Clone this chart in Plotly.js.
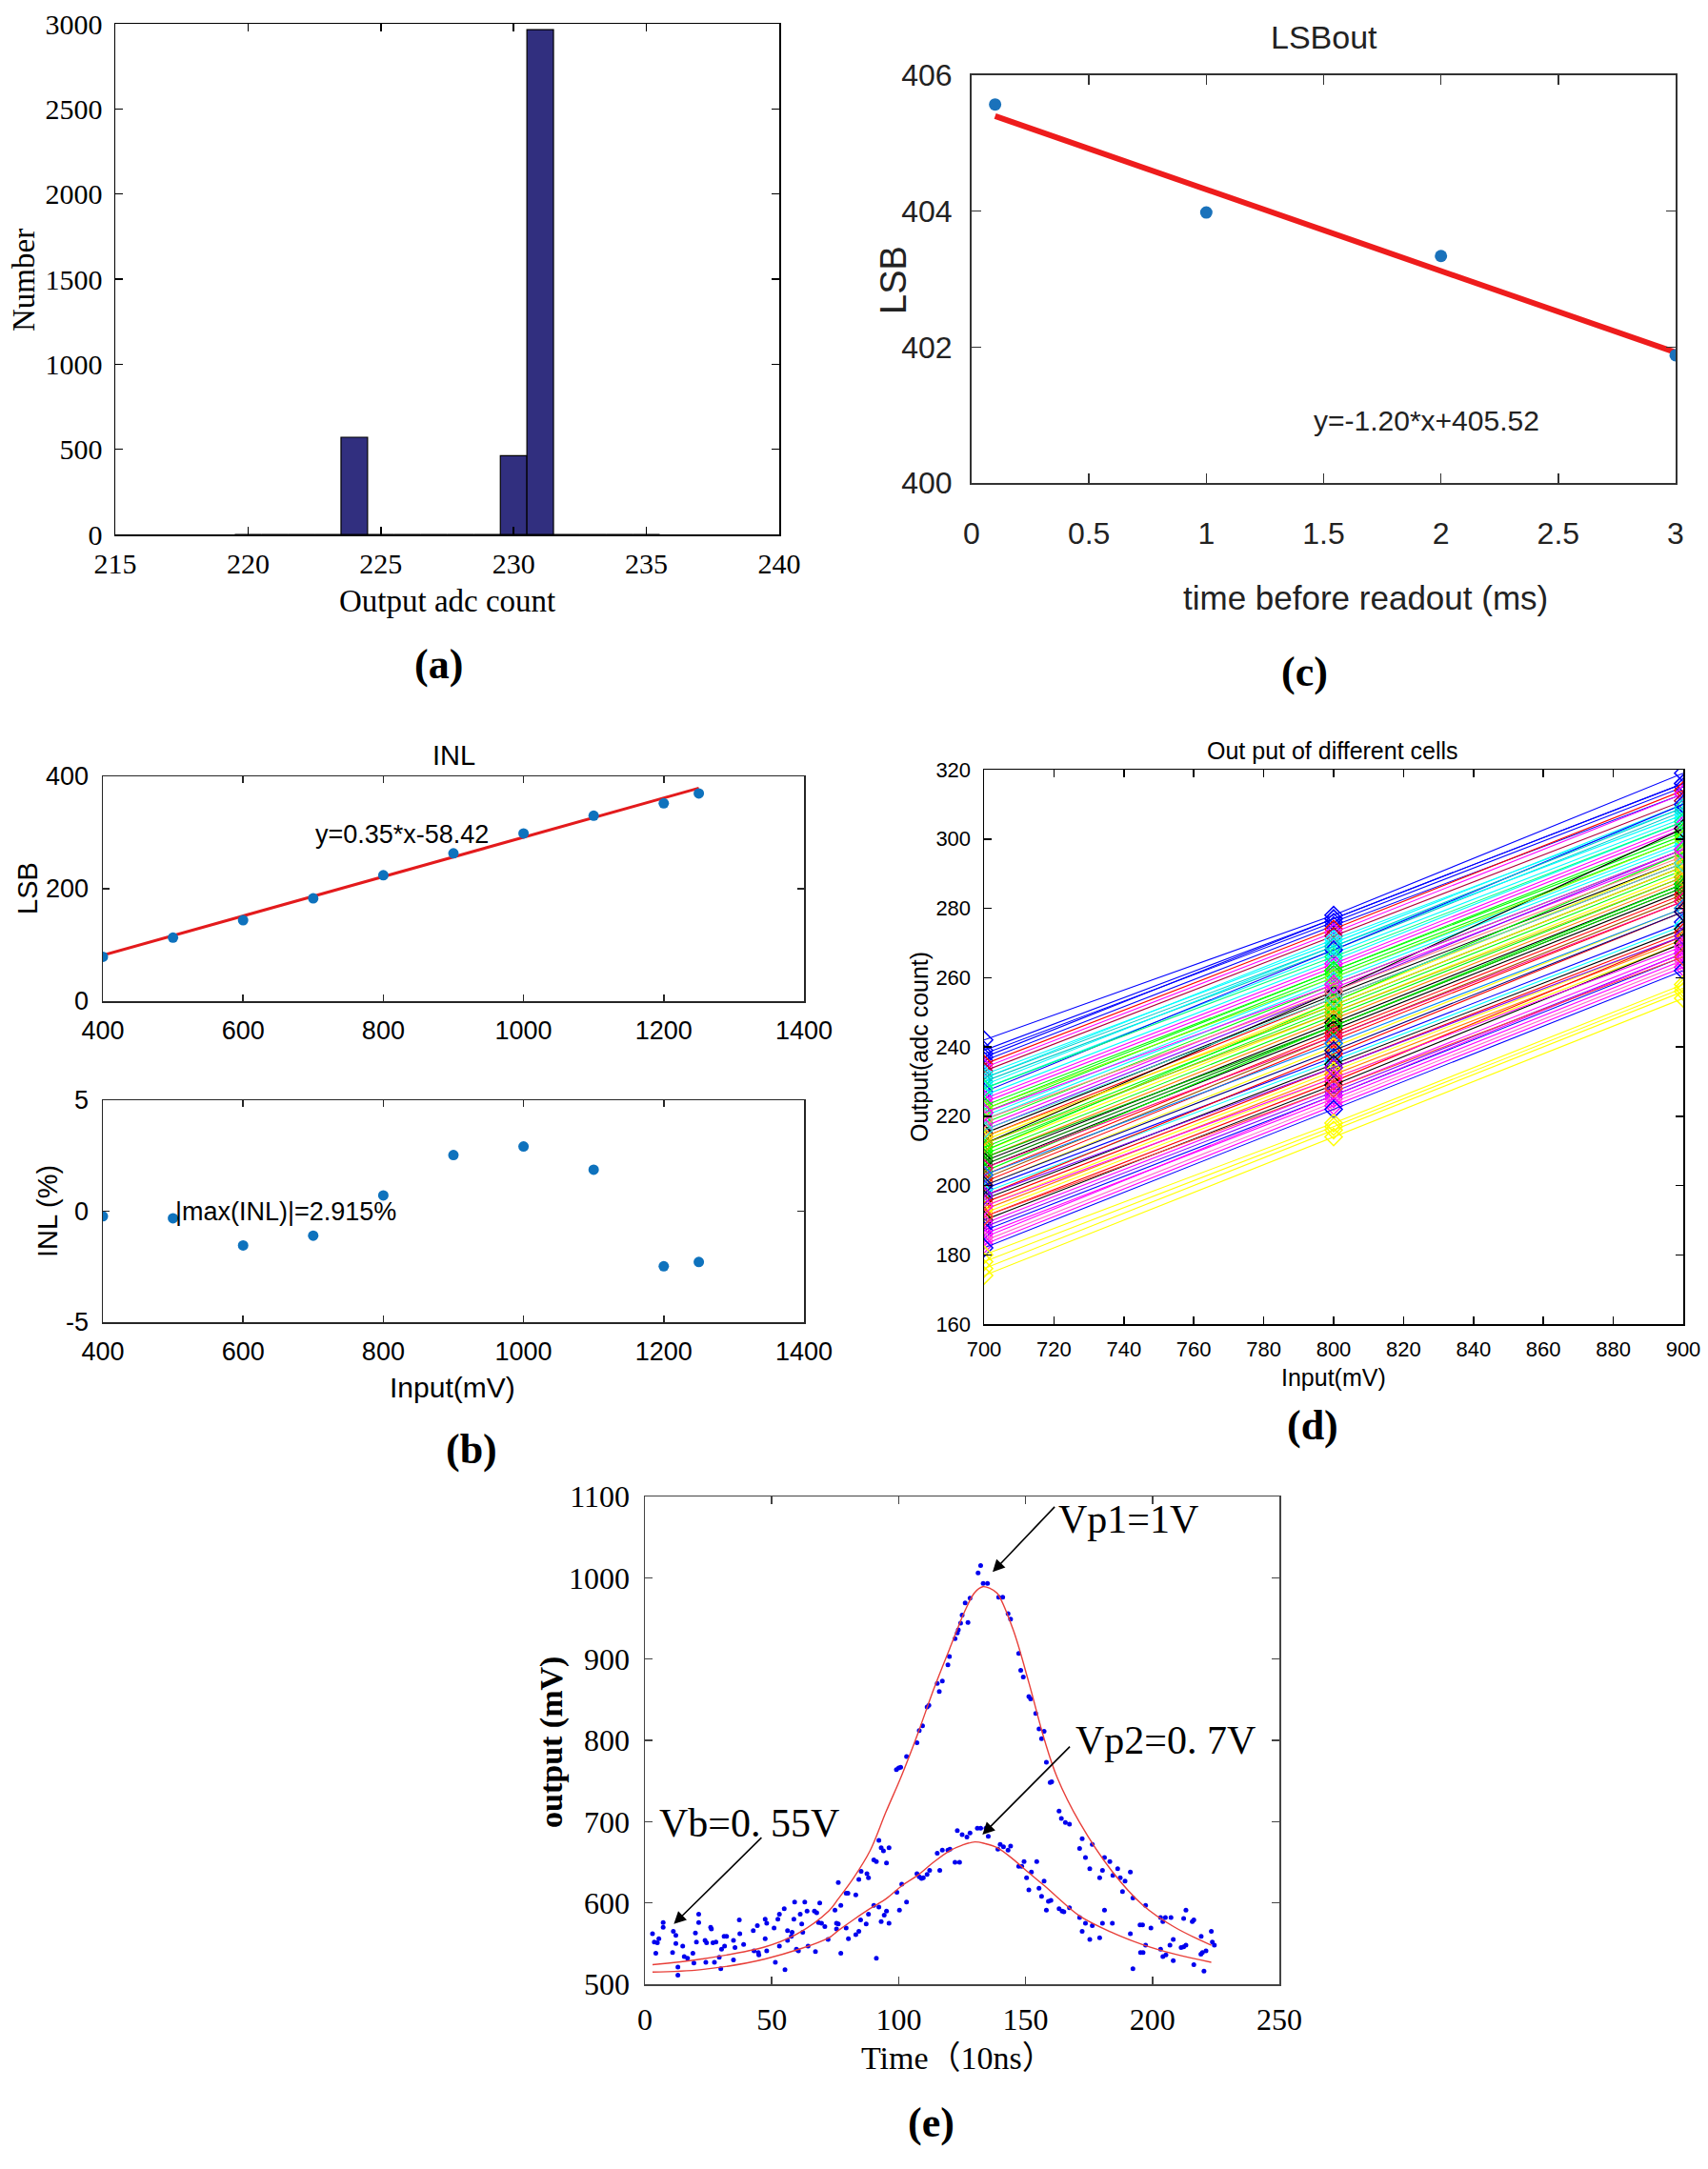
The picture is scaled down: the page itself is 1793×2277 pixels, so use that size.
<!DOCTYPE html>
<html>
<head>
<meta charset="utf-8">
<script src="https://cdn.plot.ly/plotly-3.0.1.min.js"></script>
<style>
  html, body { margin: 0; padding: 0; background: #ffffff; }
  #fig { width: 1793px; height: 2277px; }
</style>
</head>
<body>
<div id="fig"></div>
<script>
// ---------- (a) histogram of output codes ----------
const histBins   = [220, 221, 222, 223, 224, 225, 226, 227, 228, 229, 230, 231, 232, 233, 234, 235];
const histCounts = [0, 0, 0, 0, 571, 0, 0, 0, 0, 0, 462, 2966, 0, 0, 0, 0];

// ---------- (c) LSB versus time before readout ----------
const lsbTime = [0.1, 1, 2, 3];
const lsbOut  = [405.57, 403.98, 403.34, 401.88];
const lsbFitSlope = -1.20;
const lsbFitIntercept = 405.52;

// ---------- (b) linearity scan ----------
const inlInput = [400, 500, 600, 700, 800, 900, 1000, 1100, 1200, 1250];
const inlLsb   = [79, 113, 144, 183, 224, 263, 298.5, 330, 352, 369.6];
const inlPct   = [-0.23, -0.32, -1.54, -1.10, 0.71, 2.53, 2.915, 1.87, -2.48, -2.29];
const inlFitSlope = 0.35;
const inlFitIntercept = -58.42;

// ---------- (d) response of individual cells ----------
const cellInputs = [700, 800, 900];
const cellAt700 = [242, 239, 238, 237, 236, 235, 234, 233, 232, 231, 230, 229, 228, 227, 226, 225, 224, 223, 222, 221,
                   220, 219, 218, 217, 216, 215, 214, 213, 212, 212, 211, 210, 210, 209, 208, 207, 206, 205, 204, 203,
                   202, 201, 200, 199, 198, 197, 196, 195, 194, 193, 192, 191, 190, 189, 188, 187, 186, 185, 184, 183,
                   182, 180, 178, 176, 174, 231, 228, 222, 219, 214, 212, 208, 205, 203, 200, 197, 194, 191, 216, 221];
const cellAt800 = [278, 277, 276, 277, 275, 274, 273, 272, 270, 271, 268, 269, 267, 268, 265, 264, 263, 262, 262, 261,
                   260, 259, 258, 257, 256, 255, 254, 253, 252, 256, 251, 250, 253, 249, 248, 247, 246, 245, 246, 244,
                   243, 242, 240, 237, 236, 238, 235, 234, 233, 232, 231, 230, 229, 228, 227, 226, 225, 226, 224, 223,
                   222, 218, 217, 216, 214, 269, 266, 260, 256, 252, 250, 246, 243, 241, 239, 234, 231, 228, 254, 258];
const cellAt900 = [319, 316, 315, 316, 313, 314, 313, 311, 310, 309, 308, 307, 306, 310, 305, 304, 303, 302, 301, 300,
                   299, 298, 297, 296, 297, 294, 293, 294, 292, 303, 291, 290, 296, 289, 288, 287, 286, 285, 287, 284,
                   283, 282, 280, 276, 275, 279, 274, 273, 272, 271, 270, 272, 270, 268, 267, 266, 265, 267, 264, 263,
                   262, 258, 257, 256, 254, 309, 305, 300, 295, 292, 289, 286, 282, 280, 279, 272, 269, 266, 293, 297];
const cellColors = ['#0000ff', '#0000ff', '#0000ff', '#0000ff', '#0000ff', '#ff0000', '#ff00ff', '#b0003a', '#00ffff', '#00ffff',
                    '#00c8c8', '#00ffff', '#00ffff', '#0000ff', '#00ffff', '#ff00ff', '#ff00ff', '#00ff00', '#00ff00', '#00ff00',
                    '#00ffff', '#00ffff', '#00ff00', '#ff00ff', '#8000ff', '#000000', '#ff0000', '#ffff00', '#00ff00', '#000000',
                    '#00ff00', '#ffff00', '#00ff00', '#00ff00', '#ff8000', '#000000', '#008000', '#000000', '#00ff00', '#ff0000',
                    '#a05000', '#ff0000', '#ffff00', '#0000ff', '#00ffff', '#ff0000', '#000000', '#ff0000', '#ffff00', '#ff8000',
                    '#ffff00', '#ff0000', '#000000', '#ff00ff', '#8000ff', '#0000ff', '#ff00ff', '#ff00ff', '#ff66cc', '#ff00ff',
                    '#0000ff', '#ffff00', '#ffff00', '#ffff00', '#ffff00', '#00cccc', '#00ff80', '#80ff00', '#ff8080', '#ffcc00',
                    '#c0c000', '#00c000', '#ff0080', '#0080ff', '#000080', '#8000ff', '#ff00ff', '#ff4040', '#40e0d0', '#ff00ff'];

// ---------- (e) sampled pulse shapes and fitted curves ----------
const samplePoints = [
  [3.0,562],[3.7,552],[4.9,551],[5.5,556],[4.3,538],[7.2,576],[7.2,570],[11.2,565],[12.2,560],[10.9,539],
  [12.2,550],[13.0,521],[13.0,511],[14.9,547],[15.5,534],[16.8,532],[18.9,538],[19.3,526],[19.9,563],[21.2,586],
  [21.2,576],[20.3,552],[23.7,554],[24.0,527],[24.3,551],[25.9,570],[26.2,568],[26.8,551],[28.0,552],[27.4,527],
  [29.3,533],[29.9,519],[30.2,543],[31.2,559],[32.2,559],[31.4,547],[34.9,554],[35.5,545],[34.9,530],[37.2,579],
  [37.4,562],[38.9,549],[42.7,566],[43.0,541],[44.3,572],[44.9,536],[44.7,539],[47.4,580],[47.4,556],[48.0,575],
  [48.0,541],[50.9,569],[51.4,527],[52.4,580],[53.0,586],[53.0,547],[54.9,593],[55.2,518],[56.2,566],[56.2,554],
  [57.7,559],[58.0,564],[58.7,580],[59.0,601],[59.7,543],[60.5,541],[61.2,586],[61.8,574],[62.2,564],[63.0,601],
  [63.9,590],[64.3,547],[66.8,590],[67.2,540],[67.7,588],[68.4,576],[68.9,600],[69.6,575],[70.9,571],[72.2,555],
  [74.9,591],[75.5,575],[75.5,568],
  [132.3,1015],[131.3,1006],[133.3,993],[135.0,993],[139.4,976],[141.0,976],[126.2,969],[128.1,975],[125.0,954],[124.4,944],
  [127.3,945],[123.5,936],[123.1,932],[122.2,925],[120.0,903],[119.4,893],[117.2,873],[116.0,860],[115.2,870],[111.9,843],
  [111.2,841],[109.4,818],[108.1,812],[107.2,797],[103.1,780],[100.8,767],[100.0,766],[99.1,764],[143.1,956],[144.1,949],
  [147.3,907],[148.1,886],[149.1,878],[151.3,854],[152.0,851],[154.0,833],[155.3,814],[157.3,811],[156.3,802],[158.2,773],
  [159.7,748],[160.3,749],[92.2,677],[93.1,668],[94.0,664],[95.2,649],[96.2,668],[90.2,653],[91.2,651],[87.5,636],
  [88.1,631],[84.3,629],[85.2,639],[79.3,612],[80.0,612],[83.1,610],
  [76.2,625],[77.2,597],[76.2,574],[79.3,569],[83.1,561],[84.3,565],[80.2,556],[85.0,579],[87.2,574],[88.1,586],
  [90.2,597],[92.2,595],[93.1,577],[94.3,585],[95.2,590],[96.2,575],[77.2,538],[91.2,532],[99.3,613],[100.3,591],
  [101.2,623],[103.1,601],[107.2,636],[108.1,632],[109.0,630],[109.7,631],[111.2,635],[112.2,640],[116.2,640],[115.2,661],
  [117.2,665],[119.4,665],[120.2,666],[122.2,650],[124.0,650],[123.1,689],[125.0,684],[126.9,681],[128.1,686],[131.0,692],
  [132.3,692],[134.4,692],[135.3,682],[140.0,672],[141.3,669],[143.1,665],[144.1,670],[139.1,666],[147.3,645],[148.5,645],
  [149.4,651],[150.4,631],[151.3,616],[152.3,638],[154.4,651],[155.3,618],[156.3,608],[157.3,627],[158.2,591],[159.0,602],
  [160.0,603],
  [163.2,713],[164.1,704],[165.7,699],[167.3,697],[171.3,667],[172.3,679],[176.3,672],[173.6,656],[175.3,642],[181.1,656],
  [183.2,651],[180.3,640],[186.3,642],[179.2,631],[187.3,631],[184.4,634],[189.2,627],[191.3,638],[188.2,614],[192.3,606],
  [197.3,597],[203.2,582],[205.1,582],[207.3,582],[204.1,577],[212.3,581],[213.2,591],[215.7,577],[216.3,579],[219.2,559],
  [223.2,565],[223.6,552],[224.4,548],
  [163.2,593],[164.4,590],[165.1,589],[167.3,594],[171.3,582],[172.3,565],[173.6,575],[175.3,555],[176.3,572],[179.2,557],
  [180.3,575],[181.1,591],[184.2,575],[191.3,562],[192.3,519],[195.1,573],[196.1,573],[196.3,539],[195.3,539],[197.3,548],
  [199.4,569],[203.2,543],[204.1,534],[205.3,536],[206.9,548],[208.2,555],[208.2,529],[211.3,545],[212.3,546],[213.2,548],
  [216.3,524],[219.1,537],[219.7,539],[220.3,516],[221.1,541]
];
const fitTime1 = [3, 22.4, 47.4, 60, 72.4, 76.2, 82.5, 88.7, 95, 101.2, 107.5, 113.7, 120, 126.2, 130, 133.1, 136, 138.8, 145, 151.3, 157.5, 162.5, 171.3, 183.8, 196.3, 208.8, 223.2];
const fitOut1  = [524, 531, 546, 562, 590, 605, 632, 664, 712, 757, 808, 862, 912, 960, 982, 989, 987, 981, 937, 871, 800, 754, 699, 640, 597, 570, 548];
const fitTime2 = [3, 22.4, 47.4, 72.4, 76.2, 82.5, 88.7, 95, 101.2, 107.5, 113.7, 120, 125, 130, 134, 138.8, 145, 151.3, 157.5, 162.5, 171.3, 183.8, 196.3, 208.8, 223.2];
const fitOut2  = [515, 518, 531, 557, 566, 580, 593, 605, 621, 634, 650, 664, 671, 675, 673, 668, 654, 637, 621, 607, 584, 564, 548.5, 537, 527];

// ---------- page geometry helpers ----------
const W = 1793, H = 2277;
const px = v => v / W;            // page x pixel -> paper fraction
const py = v => 1 - v / H;        // page y pixel -> paper fraction
const dom = (a, b) => [px(a), px(b)];
const domY = (top, bottom) => [py(bottom), py(top)];

const SERIF = 'Liberation Serif, Times New Roman, serif';
const SANS = 'Liberation Sans, Arial, sans-serif';
const CJK_SERIF = 'Liberation Serif, Noto Sans CJK SC, serif';

function axis(opts) {
  return Object.assign({
    showline: true, mirror: 'ticks', ticks: 'inside', ticklen: 8,
    linecolor: '#000', linewidth: 1.5, tickcolor: '#000', tickwidth: 1.5,
    showgrid: false, zeroline: false, fixedrange: true, automargin: false
  }, opts);
}

const traces = [];

// (a)
traces.push({
  type: 'bar', x: histBins, y: histCounts, width: 1,
  marker: { color: '#312f7f', line: { color: '#000', width: 1.2 } },
  xaxis: 'x', yaxis: 'y', hoverinfo: 'x+y'
});

// (c)
traces.push({
  type: 'scatter', mode: 'lines',
  x: [lsbTime[0], lsbTime[lsbTime.length - 1]],
  y: [lsbTime[0], lsbTime[lsbTime.length - 1]].map(t => lsbFitSlope * t + lsbFitIntercept),
  line: { color: '#ee1c1c', width: 6 }, xaxis: 'x2', yaxis: 'y2'
});
traces.push({
  type: 'scatter', mode: 'markers', x: lsbTime, y: lsbOut,
  marker: { color: '#1a72bb', size: 13 }, xaxis: 'x2', yaxis: 'y2'
});

// (b) upper
traces.push({
  type: 'scatter', mode: 'lines',
  x: [inlInput[0], inlInput[inlInput.length - 1]],
  y: [inlInput[0], inlInput[inlInput.length - 1]].map(v => inlFitSlope * v + inlFitIntercept),
  line: { color: '#e31a1c', width: 3 }, xaxis: 'x3', yaxis: 'y3'
});
traces.push({
  type: 'scatter', mode: 'markers', x: inlInput, y: inlLsb,
  marker: { color: '#0e72bd', size: 11 }, xaxis: 'x3', yaxis: 'y3'
});
// (b) lower
traces.push({
  type: 'scatter', mode: 'markers', x: inlInput, y: inlPct,
  marker: { color: '#0e72bd', size: 11 }, xaxis: 'x4', yaxis: 'y4'
});

// (d)
for (let i = 0; i < cellAt700.length; i++) {
  traces.push({
    type: 'scatter', mode: 'lines+markers', x: cellInputs,
    y: [cellAt700[i], cellAt800[i], cellAt900[i]],
    line: { color: cellColors[i], width: 1.1 },
    marker: { symbol: 'diamond-open', size: 14, color: cellColors[i], line: { width: 1.5 } },
    xaxis: 'x5', yaxis: 'y5', hoverinfo: 'y'
  });
}

// (e)
traces.push({
  type: 'scatter', mode: 'markers',
  x: samplePoints.map(p => p[0]), y: samplePoints.map(p => p[1]),
  marker: { color: '#0000ee', size: 5 }, xaxis: 'x6', yaxis: 'y6'
});
traces.push({
  type: 'scatter', mode: 'lines', x: fitTime1, y: fitOut1,
  line: { color: '#e8403a', width: 1.4, shape: 'spline', smoothing: 1 }, xaxis: 'x6', yaxis: 'y6'
});
traces.push({
  type: 'scatter', mode: 'lines', x: fitTime2, y: fitOut2,
  line: { color: '#e8403a', width: 1.4, shape: 'spline', smoothing: 1 }, xaxis: 'x6', yaxis: 'y6'
});

// ---------- text ----------
function label(text, x, y, font, extra) {
  return Object.assign({
    text: text, xref: 'paper', yref: 'paper', x: px(x), y: py(y),
    xanchor: 'center', yanchor: 'middle', showarrow: false, font: font
  }, extra || {});
}
const maxInl = Math.max(...inlPct.map(Math.abs));

const annotations = [
  // (a)
  label('Output adc count', 469, 631, { family: SERIF, size: 33, color: '#000' }),
  label('Number', 25, 294, { family: SERIF, size: 33, color: '#000' }, { textangle: -90 }),
  label('<b>(a)</b>', 460, 697, { family: SERIF, size: 44, color: '#000' }),
  // (c)
  label('LSBout', 1390, 39, { family: SANS, size: 34, color: '#222' }),
  label('LSB', 938, 294, { family: SANS, size: 38, color: '#222' }, { textangle: -90 }),
  label('time before readout (ms)', 1433, 627, { family: SANS, size: 35, color: '#222' }),
  label('<b>(c)</b>', 1369, 705, { family: SERIF, size: 44, color: '#000' }),
  {
    text: 'y=' + lsbFitSlope.toFixed(2) + '*x+' + lsbFitIntercept.toFixed(2),
    xref: 'x2', yref: 'y2', x: 1.94, y: 400.92, xanchor: 'center', yanchor: 'middle',
    showarrow: false, font: { family: SANS, size: 30, color: '#222' }
  },
  // (b)
  label('INL', 476, 793, { family: SANS, size: 29, color: '#000' }),
  label('LSB', 29, 933, { family: SANS, size: 29, color: '#000' }, { textangle: -90 }),
  label('INL (%)', 50, 1272, { family: SANS, size: 29, color: '#000' }, { textangle: -90 }),
  label('Input(mV)', 475, 1457, { family: SANS, size: 30, color: '#000' }),
  label('<b>(b)</b>', 495, 1521, { family: SERIF, size: 44, color: '#000' }),
  {
    text: 'y=' + inlFitSlope.toFixed(2) + '*x' + inlFitIntercept.toFixed(2),
    xref: 'x3', yref: 'y3', x: 700, y: 297, xanchor: 'left', yanchor: 'middle',
    showarrow: false, font: { family: SANS, size: 27, color: '#000' }
  },
  {
    text: '|max(INL)|=' + maxInl.toFixed(3) + '%',
    xref: 'x4', yref: 'y4', x: 500, y: 0, xanchor: 'left', yanchor: 'middle',
    showarrow: false, font: { family: SANS, size: 27, color: '#000' }
  },
  // (d)
  label('Out put of different cells', 1399, 788, { family: SANS, size: 25, color: '#000' }),
  label('Output(adc count)', 965, 1099, { family: SANS, size: 25, color: '#000' }, { textangle: -90 }),
  label('Input(mV)', 1400, 1446, { family: SANS, size: 25, color: '#000' }),
  label('<b>(d)</b>', 1378, 1496, { family: SERIF, size: 44, color: '#000' }),
  // (e)
  label('<b>output (mV)</b>', 579, 1829, { family: SERIF, size: 34, color: '#000' }, { textangle: -90 }),
  label('Time\uFF0810ns\uFF09', 1005, 2160, { family: CJK_SERIF, size: 34, color: '#000' }),
  label('<b>(e)</b>', 978, 2228, { family: SERIF, size: 44, color: '#000' }),
  {
    text: 'Vp1=1V', xref: 'x6', yref: 'y6', x: 162, y: 1072, xanchor: 'left', yanchor: 'middle',
    showarrow: false, font: { family: SERIF, size: 42, color: '#000' }
  },
  {
    text: 'Vp2=0. 7V', xref: 'x6', yref: 'y6', x: 169, y: 800, xanchor: 'left', yanchor: 'middle',
    showarrow: false, font: { family: SERIF, size: 42, color: '#000' }
  },
  {
    text: 'Vb=0. 55V', xref: 'x6', yref: 'y6', x: 5, y: 698, xanchor: 'left', yanchor: 'middle',
    showarrow: false, font: { family: SERIF, size: 42, color: '#000' }
  },
  // arrows in (e)
  { text: '', xref: 'x6', yref: 'y6', axref: 'x6', ayref: 'y6', x: 137, y: 1007, ax: 162, ay: 1089,
    showarrow: true, arrowhead: 2, arrowsize: 1.6, arrowwidth: 1.6, arrowcolor: '#000' },
  { text: '', xref: 'x6', yref: 'y6', axref: 'x6', ayref: 'y6', x: 133, y: 684, ax: 168, ay: 794,
    showarrow: true, arrowhead: 2, arrowsize: 1.6, arrowwidth: 1.6, arrowcolor: '#000' },
  { text: '', xref: 'x6', yref: 'y6', axref: 'x6', ayref: 'y6', x: 11.4, y: 574, ax: 46.5, ay: 682,
    showarrow: true, arrowhead: 2, arrowsize: 1.6, arrowwidth: 1.6, arrowcolor: '#000' }
];

const layout = {
  width: W, height: H, autosize: false,
  margin: { l: 0, r: 0, t: 0, b: 0, pad: 0 },
  paper_bgcolor: '#ffffff', plot_bgcolor: '#ffffff',
  showlegend: false, bargap: 0,
  // (a)
  xaxis: axis({ domain: dom(121, 818), anchor: 'y', range: [215, 240], dtick: 5, tick0: 215,
    tickfont: { family: SERIF, size: 30, color: '#000' }, ticklabelstandoff: 3 }),
  yaxis: axis({ domain: domY(25, 561), anchor: 'x', range: [0, 3000], dtick: 500,
    tickfont: { family: SERIF, size: 30, color: '#000' }, ticklabelstandoff: 6 }),
  // (c)
  xaxis2: axis({ domain: dom(1020, 1759), anchor: 'y2', range: [0, 3], dtick: 0.5,
    linecolor: '#333', tickcolor: '#333', linewidth: 2, ticklen: 10,
    tickfont: { family: SANS, size: 32, color: '#222' }, ticklabelstandoff: 24 }),
  yaxis2: axis({ domain: domY(79, 507), anchor: 'x2', range: [400, 406], dtick: 2,
    linecolor: '#333', tickcolor: '#333', linewidth: 2, ticklen: 10,
    tickfont: { family: SANS, size: 32, color: '#222' }, ticklabelstandoff: 12 }),
  // (b) upper
  xaxis3: axis({ domain: dom(108, 844), anchor: 'y3', range: [400, 1400], dtick: 200,
    linecolor: '#262626', tickcolor: '#262626', ticklen: 7,
    tickfont: { family: SANS, size: 27, color: '#000' }, ticklabelstandoff: 6 }),
  yaxis3: axis({ domain: domY(815, 1051), anchor: 'x3', range: [0, 400], dtick: 200,
    linecolor: '#262626', tickcolor: '#262626', ticklen: 7,
    tickfont: { family: SANS, size: 27, color: '#000' }, ticklabelstandoff: 8 }),
  // (b) lower
  xaxis4: axis({ domain: dom(108, 844), anchor: 'y4', range: [400, 1400], dtick: 200,
    linecolor: '#262626', tickcolor: '#262626', ticklen: 7,
    tickfont: { family: SANS, size: 27, color: '#000' }, ticklabelstandoff: 6 }),
  yaxis4: axis({ domain: domY(1155, 1388), anchor: 'x4', range: [-5, 5],
    tickmode: 'array', tickvals: [-5, 0, 5], ticktext: ['-5', '0', '5'],
    linecolor: '#262626', tickcolor: '#262626', ticklen: 7,
    tickfont: { family: SANS, size: 27, color: '#000' }, ticklabelstandoff: 8 }),
  // (d)
  xaxis5: axis({ domain: dom(1033, 1767), anchor: 'y5', range: [700, 900], dtick: 20,
    tickfont: { family: SANS, size: 22, color: '#000' }, ticklabelstandoff: 6 }),
  yaxis5: axis({ domain: domY(808, 1390), anchor: 'x5', range: [160, 320], dtick: 20,
    tickfont: { family: SANS, size: 22, color: '#000' }, ticklabelstandoff: 8 }),
  // (e)
  xaxis6: axis({ domain: dom(677, 1343), anchor: 'y6', range: [0, 250], dtick: 50,
    linecolor: '#444', tickcolor: '#444',
    tickfont: { family: SERIF, size: 32, color: '#000' }, ticklabelstandoff: 8 }),
  yaxis6: axis({ domain: domY(1571, 2083), anchor: 'x6', range: [500, 1100], dtick: 100,
    linecolor: '#444', tickcolor: '#444',
    tickfont: { family: SERIF, size: 32, color: '#000' }, ticklabelstandoff: 8 }),
  annotations: annotations
};

Plotly.newPlot('fig', traces, layout, { staticPlot: true, displayModeBar: false });
</script>
</body>
</html>
